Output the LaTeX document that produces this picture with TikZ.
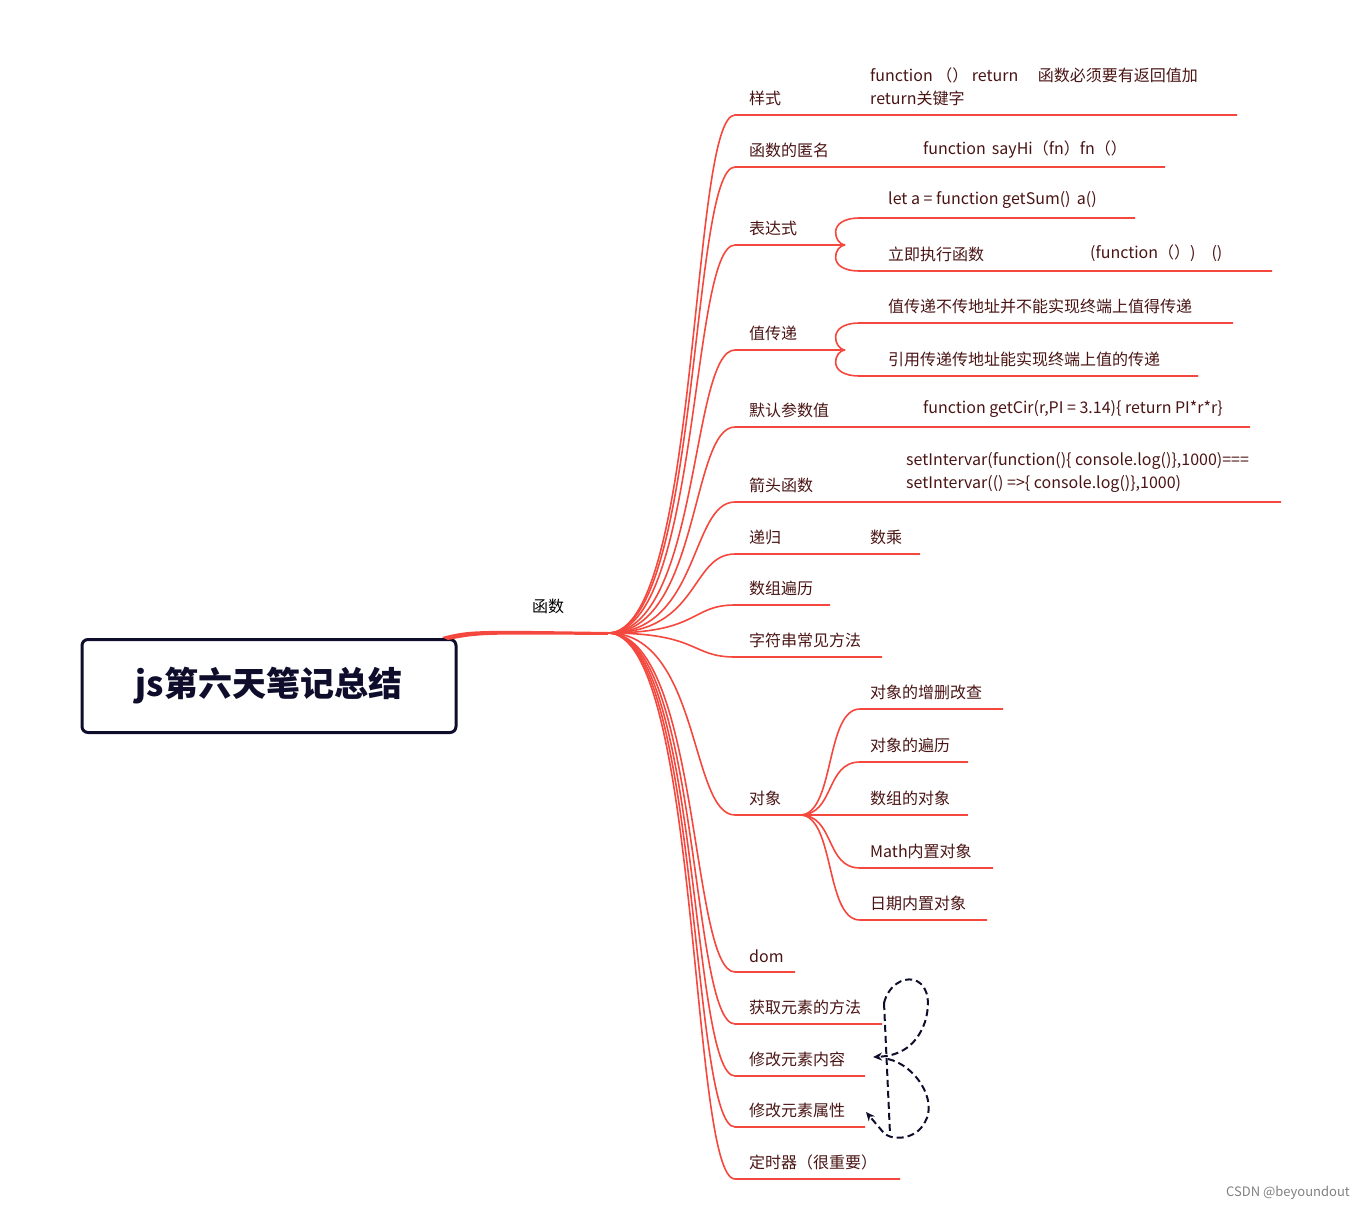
\documentclass[tikz,border=0pt]{standalone}
\usepackage{fontspec}
\setmainfont{Noto Sans CJK SC}
\usetikzlibrary{arrows.meta}
\definecolor{ln}{HTML}{F4483E}
\definecolor{tx}{HTML}{4A1414}
\definecolor{nv}{HTML}{0E0E2C}
\tikzset{
 lbl/.style={anchor=south west,inner sep=0pt,text=tx,font=\fontsize{16}{19}\selectfont},
 br/.style={draw=ln,line width=1.6pt},
 dsh/.style={draw=nv,dashed,line width=2pt,dash pattern=on 7pt off 4pt}
}
\begin{document}
\begin{tikzpicture}[x=1pt,y=-1pt]
\useasboundingbox (0,0) rectangle (1365,1209);
\node[draw=nv,line width=3pt,rounded corners=6pt,minimum width=374pt,minimum height=93pt,font=\fontsize{34}{40}\selectfont\bfseries,text=nv] (root) at (269,686) {js第六天笔记总结};
\coordinate (hub) at (608,633);
\fill[ln] (442,637) .. controls (470,630) .. (608,632) -- (608,635) .. controls (480,634) .. (448,640) -- cycle;
\node[lbl,text=black] (fn) at (532,614) {函数};
% main branches: name / y / end / label
\foreach \n/\y/\e/\t in {a/115/1237/样式, b/167/1165/函数的匿名, c/245/845/表达式, d/350/845/值传递, e/427/1250/默认参数值, f/502/1281/箭头函数, g/554/920/递归, h/605/830/数组遍历, i/657/882/字符串常见方法, j/815/800/对象, k/972/795/dom, l/1024/882/获取元素的方法, m/1076/865/修改元素内容, n/1127/865/修改元素属性, o/1179/900/定时器（很重要）}{
 \coordinate (\n s) at (735,\y);
 \coordinate (\n e) at (\e,\y);
 \draw[br] (hub) .. controls (700,633) and (690,\y) .. (\n s) -- (\n e);
 \node[lbl] (\n l) at (749,\y-9) {\t};
}
% sub branches
\foreach \p/\py/\n/\y/\e in {c/245/c1/218/1135, c/245/c2/271/1272, d/350/d1/323/1233, d/350/d2/376/1198, j/815/j1/709/1003, j/815/j2/762/968, j/815/j3/815/968, j/815/j4/868/993, j/815/j5/920/987}{
 \coordinate (\n s) at (860,\y);
 \coordinate (\n e) at (\e,\y);
 \draw[br] (\p e) .. controls (835,\py) and (825,\y) .. (\n s) -- (\n e);
}
\node[lbl] (a1) at (870,83) {function （）{ return }\quad 函数必须要有返回值加};
\node[lbl] (a2) at (870,106) {return关键字};
\node[lbl] (b1) at (923,158) {function\, sayHi（fn）{fn（）}};
\node[lbl] (c1l) at (888,209) {let a = function getSum(){}\, a()};
\node[lbl] (c2l) at (888,262) {立即执行函数};
\node[lbl] (c2r) at (1090,262) {(function（）{})\quad ()};
\node[lbl] (d1l) at (888,314) {值传递不传地址并不能实现终端上值得传递};
\node[lbl] (d2l) at (888,367) {引用传递传地址能实现终端上值的传递};
\node[lbl] (e1) at (923,418) {function getCir(r,PI = 3.14)\{ return PI*r*r\}};
\node[lbl] (f1) at (906,470) {setIntervar(function()\{ console.log()\},1000)===};
\node[lbl] (f2) at (906,493) {setIntervar(() =>\{ console.log()\},1000)};
\node[lbl] (g1) at (870,545) {数乘};
\node[lbl] (j1l) at (870,700) {对象的增删改查};
\node[lbl] (j2l) at (870,753) {对象的遍历};
\node[lbl] (j3l) at (870,806) {数组的对象};
\node[lbl] (j4l) at (870,859) {Math内置对象};
\node[lbl] (j5l) at (870,911) {日期内置对象};
% dashed arrows
\coordinate (p1) at (884,1003);
\coordinate (p2) at (890,1134);
\draw[dsh] (p1) -- (p2);
\draw[dsh,-{Stealth[length=9pt,width=8pt]}] (p1) .. controls (893,968) and (940,970) .. (925,1022) .. controls (915,1050) and (895,1056) .. (873,1057);
\draw[dsh,-{Stealth[length=9pt,width=8pt]}] (888,1059) .. controls (915,1065) and (938,1100) .. (925,1122) .. controls (915,1142) and (888,1140) .. (883,1132) -- (866,1112);
\node[anchor=south east,inner sep=0pt,text=gray,font=\fontsize{13}{15}\selectfont] (wm) at (1350,1200) {CSDN @beyoundout};
\end{tikzpicture}
\end{document}
